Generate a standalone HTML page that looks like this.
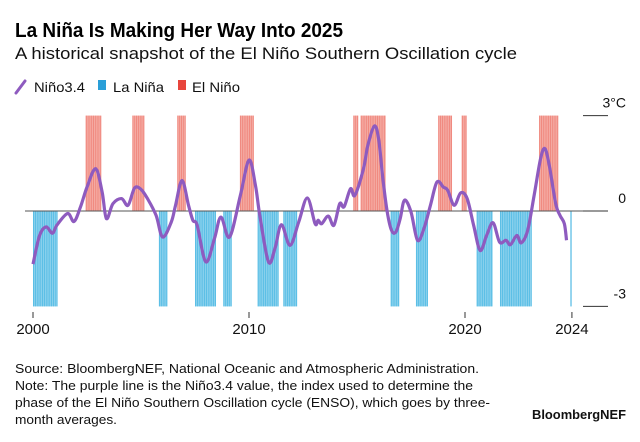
<!DOCTYPE html>
<html><head><meta charset="utf-8"><style>
body{margin:0;background:#fff;}
svg{display:block;font-family:"Liberation Sans",sans-serif;}
</style></head><body>
<svg id="c" width="640" height="442" viewBox="0 0 640 442">
<text x="15" y="37" font-size="20" font-weight="bold" fill="#000" textLength="328" lengthAdjust="spacingAndGlyphs">La Niña Is Making Her Way Into 2025</text>
<text x="15" y="59" font-size="17" fill="#111" textLength="502" lengthAdjust="spacingAndGlyphs">A historical snapshot of the El Niño Southern Oscillation cycle</text>
<g>
<g><line x1="16" y1="93" x2="25" y2="81" stroke="#8e5bbf" stroke-width="3" stroke-linecap="round"/><text x="34" y="92" font-size="14" fill="#111" textLength="51" lengthAdjust="spacingAndGlyphs">Niño3.4</text></g>
<g><rect x="98" y="80" width="8" height="10" fill="#2a9fd8"/><text x="113" y="92" font-size="14" fill="#111" textLength="51" lengthAdjust="spacingAndGlyphs">La Niña</text></g>
<g><rect x="178" y="80" width="8" height="10" fill="#e8453c"/><text x="192" y="92" font-size="14" fill="#111" textLength="48" lengthAdjust="spacingAndGlyphs">El Niño</text></g>
</g>
<g id="bars"></g>
<line x1="25" y1="211" x2="588" y2="211" stroke="#555" stroke-width="1"/>
<path id="line" fill="none" stroke="#8e5bbf" stroke-width="3.2" stroke-linejoin="round"/>
<g id="yaxis"></g>
<g id="xaxis"></g>
<g font-size="13" fill="#111">
<text x="15" y="373" textLength="464" lengthAdjust="spacingAndGlyphs">Source: BloombergNEF, National Oceanic and Atmospheric Administration.</text>
<text x="15" y="390" textLength="458" lengthAdjust="spacingAndGlyphs">Note: The purple line is the Niño3.4 value, the index used to determine the</text>
<text x="15" y="407" textLength="475" lengthAdjust="spacingAndGlyphs">phase of the El Niño Southern Oscillation cycle (ENSO), which goes by three-</text>
<text x="15" y="424" textLength="102" lengthAdjust="spacingAndGlyphs">month averages.</text>
</g>
<text x="532" y="419" font-size="13" font-weight="bold" fill="#111" textLength="94" lengthAdjust="spacingAndGlyphs">BloombergNEF</text>
</svg>
<script>
const lineYears=[2000.0,2000.3,2000.6,2000.9,2001.1,2001.6,2001.9,2002.2,2002.5,2002.9,2003.2,2003.4,2003.7,2004.1,2004.4,2004.7,2005.0,2005.3,2005.7,2006.0,2006.4,2006.6,2006.9,2007.2,2007.4,2007.6,2008.0,2008.4,2008.7,2009.1,2009.6,2010.0,2010.3,2010.5,2010.9,2011.2,2011.5,2011.9,2012.3,2012.7,2013.06,2013.2,2013.36,2013.67,2013.93,2014.2,2014.4,2014.7,2014.9,2015.3,2015.5,2015.8,2016.0,2016.2,2016.4,2016.6,2016.8,2017.0,2017.2,2017.5,2017.8,2018.1,2018.4,2018.7,2019.0,2019.2,2019.5,2019.8,2020.1,2020.4,2020.7,2021.0,2021.3,2021.6,2021.9,2022.1,2022.4,2022.6,2022.9,2023.2,2023.5,2023.7,2023.9,2024.2,2024.4,2024.6,2024.7];
const lineValues=[-1.67,-0.78,-0.5,-0.7,-0.45,-0.08,-0.33,0.13,0.75,1.33,0.6,-0.24,0.23,0.39,0.18,0.72,0.68,0.39,-0.14,-0.82,-0.35,0.18,0.96,0.18,-0.29,-0.45,-1.6,-0.87,-0.19,-0.82,0.49,1.6,0.8,-0.14,-1.6,-1.18,-0.43,-1.08,-0.35,0.41,-0.4,-0.29,-0.4,-0.16,-0.45,0.23,0.13,0.7,0.49,1.33,2.06,2.67,2.27,1.0,-0.03,-0.61,-0.66,-0.24,0.34,-0.03,-0.92,-0.55,0.18,0.91,0.75,0.65,0.18,0.57,0.39,-0.45,-1.24,-0.77,-0.37,-0.98,-0.92,-1.06,-0.77,-1.0,-0.61,0.49,1.65,1.96,1.44,0.23,-0.14,-0.4,-0.92];
const elNinoStarts=[2002.44,2004.6,2006.68,2009.58,2014.83,2015.17,2018.76,2019.85,2023.43];
const elNinoEnds=[2003.13,2005.15,2007.07,2010.23,2015.06,2016.33,2019.38,2020.08,2024.29];
const laNinaStarts=[2000.0,2005.83,2007.5,2008.81,2010.4,2011.59,2016.56,2017.73,2020.54,2021.62,2024.88];
const laNinaEnds=[2001.13,2006.22,2008.47,2009.2,2011.37,2012.2,2016.96,2018.27,2021.28,2023.04,2024.9];
const xTickLabels=["2000","2010","2020","2024"];
const xTickYears=[2000,2010,2020,2024.95];
const yTickLabels=["3°C","0","-3"];
const yTickValues=[3,0,-3];

const NS='http://www.w3.org/2000/svg';
const X=y=>33+(y-2000)*21.6;
const Y=v=>211-v*31.8;
function mk(t,a,p){const e=document.createElementNS(NS,t);for(const k in a)e.setAttribute(k,a[k]);p.appendChild(e);return e;}
const bars=document.getElementById('bars');
function drawPeriods(st,en,col,top,bot,name){
  for(let i=0;i<st.length;i++){
    const g=mk('g',{},bars);
    
    
    const bg=mk('rect',{x:X(st[i]),y:top,width:Math.max(1.2,X(en[i])-X(st[i])),height:bot-top,fill:col,opacity:0.55},g);
    
    
    for(let m=st[i];m<=en[i]+0.001;m+=1/12){
      const r=mk('rect',{x:X(m),y:top,width:1.2,height:bot-top,fill:col},g);
      
      
    }
  }
}
drawPeriods(elNinoStarts,elNinoEnds,'#f08a80',Y(3),Y(0),'el-nino');
drawPeriods(laNinaStarts,laNinaEnds,'#5cbfe6',Y(0),Y(-3),'la-nina');
const pts=lineYears.map((y,i)=>[X(y),Y(lineValues[i])]);
let d='M'+pts[0][0]+','+pts[0][1];
for(let i=0;i<pts.length-1;i++){
  const p0=pts[Math.max(0,i-1)],p1=pts[i],p2=pts[i+1],p3=pts[Math.min(pts.length-1,i+2)];
  const c1=[p1[0]+(p2[0]-p0[0])/6,p1[1]+(p2[1]-p0[1])/6];
  const c2=[p2[0]-(p3[0]-p1[0])/6,p2[1]-(p3[1]-p1[1])/6];
  d+=` C${c1[0]},${c1[1]} ${c2[0]},${c2[1]} ${p2[0]},${p2[1]}`;
}
document.getElementById('line').setAttribute('d',d);
const ya=document.getElementById('yaxis');
yTickValues.forEach((v,i)=>{
  const l=mk('line',{x1:583,x2:608,y1:Y(v),y2:Y(v),stroke:'#333','stroke-width':1},ya);
  
  
  const t=mk('text',{x:626,y:Y(v)-8,'font-size':14,fill:'#111','text-anchor':'end'},ya);
  t.textContent=yTickLabels[i];
  
  
});
const xa=document.getElementById('xaxis');
xTickYears.forEach((y,i)=>{
  const l=mk('line',{x1:X(y),x2:X(y),y1:312,y2:318,stroke:'#333','stroke-width':1},xa);
  
  
  const t=mk('text',{x:X(y),y:334,'font-size':15,fill:'#111','text-anchor':'middle'},xa);
  t.textContent=xTickLabels[i];
  
  
});
</script>
</body></html>
